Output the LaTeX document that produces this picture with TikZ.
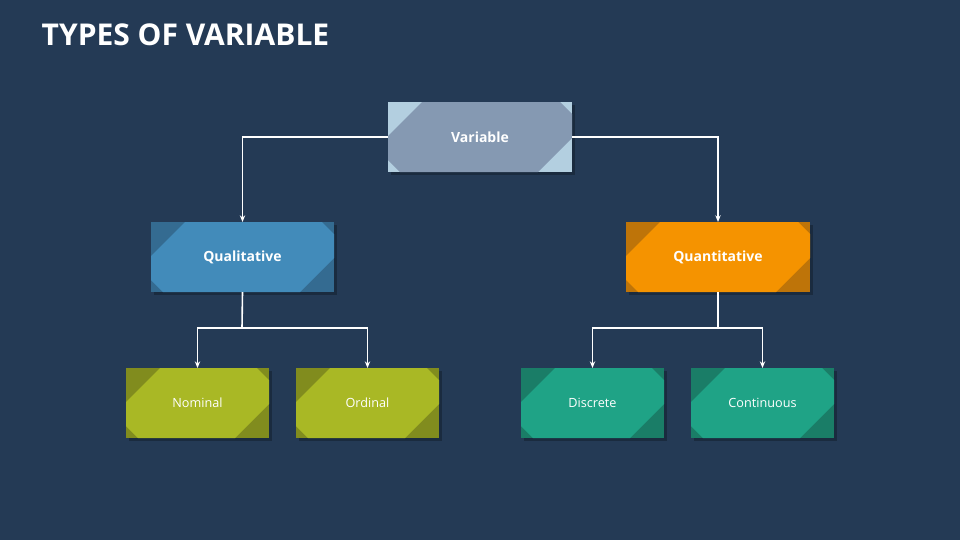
\documentclass[tikz,border=0pt]{standalone}
\usepackage{fontspec}
\setmainfont{Open Sans}
\definecolor{bg}{HTML}{243A55}
\definecolor{varm}{HTML}{8599B2}\definecolor{varc}{HTML}{B3CFE0}
\definecolor{qlm}{HTML}{428BBA}\definecolor{qlc}{HTML}{346B91}
\definecolor{qnm}{HTML}{F59300}\definecolor{qnc}{HTML}{BE7409}
\definecolor{grm}{HTML}{A9B825}\definecolor{grc}{HTML}{818C1E}
\definecolor{tem}{HTML}{1FA386}\definecolor{tec}{HTML}{1A7D67}
\newcommand{\mybox}[9]{%
 \fill[black,opacity=0.25] (#2+3,#3+3) rectangle (#4+3,#5+3);
 \fill[#7] (#2,#3) rectangle (#4,#5);
 \fill[#6] (#2+34,#3) -- (#4-12,#3) -- (#4,#3+12) -- (#4,#5-34) -- (#4-34,#5) -- (#2+12,#5) -- (#2,#5-12) -- (#2,#3+34) -- cycle;
 \node[text=white,font=#9] (#1) at ({(#2+#4)/2},{(#3+#5)/2}) {#8};
 \coordinate (#1t) at ({(#2+#4)/2},#3);
 \coordinate (#1b) at ({(#2+#4)/2},#5);
 \coordinate (#1l) at (#2,{(#3+#5)/2});
 \coordinate (#1r) at (#4,{(#3+#5)/2});
}
\tikzset{conn/.style={draw=white,line width=1.2pt,-{Stealth[length=5pt,width=4pt]}},
 lin/.style={draw=white,line width=1.2pt}}
\usetikzlibrary{arrows.meta}
\begin{document}
\begin{tikzpicture}[x=0.75pt,y=-0.75pt]
\fill[bg] (0,0) rectangle (960,540);
\node[anchor=west,text=white,font=\bfseries\fontsize{22.5}{26}\selectfont] (title) at (37,35) {TYPES OF VARIABLE};
\mybox{var}{388}{102}{572}{172}{varm}{varc}{Variable}{\bfseries\fontsize{10.5}{12}\selectfont}
\mybox{ql}{151}{222}{334}{292}{qlm}{qlc}{Qualitative}{\bfseries\fontsize{10.5}{12}\selectfont}
\mybox{qn}{626}{222}{810}{292}{qnm}{qnc}{Quantitative}{\bfseries\fontsize{10.5}{12}\selectfont}
\mybox{nom}{126}{368}{269}{438}{grm}{grc}{Nominal}{\fontsize{9.5}{11}\selectfont}
\mybox{ord}{296}{368}{439}{438}{grm}{grc}{Ordinal}{\fontsize{9.5}{11}\selectfont}
\mybox{dis}{521}{368}{664}{438}{tem}{tec}{Discrete}{\fontsize{9.5}{11}\selectfont}
\mybox{con}{691}{368}{834}{438}{tem}{tec}{Continuous}{\fontsize{9.5}{11}\selectfont}
\draw[conn] (varl) -| (qlt);
\draw[conn] (varr) -| (qnt);
\coordinate (j1) at (242,328); \coordinate (j2) at (718,328);
\draw[lin] (qlb) -- (j1);
\draw[lin] (qnb) -- (j2);
\draw[conn] (j1) -| (nomt);
\draw[conn] (j1) -| (ordt);
\draw[conn] (j2) -| (dist);
\draw[conn] (j2) -| (cont);
\end{tikzpicture}
\end{document}
